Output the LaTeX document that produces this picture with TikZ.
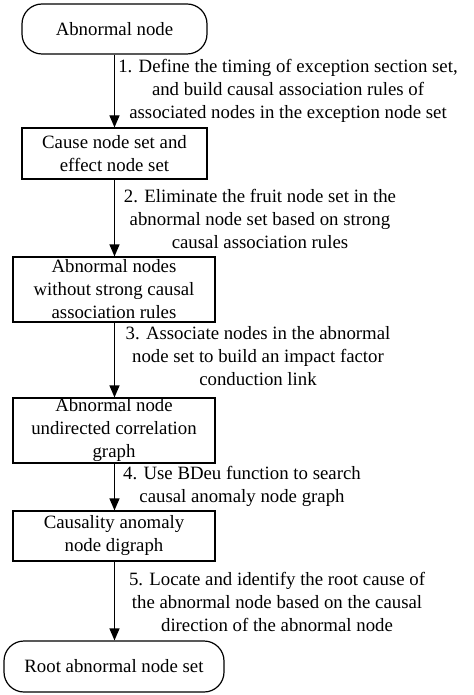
\documentclass[tikz,border=0pt]{standalone}
\usepackage{fontspec}
\setmainfont{Liberation Serif}
\usepackage{tikz}
\usetikzlibrary{positioning}
\usetikzlibrary{shapes}
\usetikzlibrary{arrows.meta}
\tikzstyle{endbox}=[draw,line width=0.6pt,rounded corners=10pt,inner sep=0pt,align=center]
\tikzstyle{stepbox}=[draw,line width=0.6pt,inner sep=0pt,align=center]
\tikzstyle{lab}=[inner sep=0pt,align=center]
\tikzstyle{flow}=[line width=0.6pt,-{Triangle[length=6pt,width=5pt]}]

\begin{document}
\begin{tikzpicture}[x=0.5pt,y=-0.5pt,font=\fontsize{9.4}{11.5}\selectfont]
			\useasboundingbox (0,0) rectangle (474,695);
			
			\node [endbox, minimum width=92.5pt, minimum height=25pt] (start) at (114.5,29) {Abnormal node};
			\node [stepbox, minimum width=92.5pt, minimum height=25.5pt] (cause) at (114.5,153.5) {Cause node set and\\effect node set};
			\node [stepbox, minimum width=101pt, minimum height=32.5pt] (nostrong) at (114,289.5) {Abnormal nodes\\without strong causal\\association rules};
			\node [stepbox, minimum width=101pt, minimum height=32.5pt] (undir) at (114,430.5) {Abnormal node\\undirected correlation\\graph};
			\node [stepbox, minimum width=101pt, minimum height=25pt] (digraph) at (114,536) {Causality anomaly\\node digraph};
			\node [endbox, minimum width=110pt, minimum height=25.5pt] (root) at (114,666.5) {Root abnormal node set};
			
			\draw[flow] (start.south -| 114.5,0) -- (cause.north -| 114.5,0);
			\draw[flow] (cause.south -| 114.5,0) -- (nostrong.north -| 114.5,0);
			\draw[flow] (nostrong.south -| 114.5,0) -- (undir.north -| 114.5,0);
			\draw[flow] (undir.south -| 114.5,0) -- (digraph.north -| 114.5,0);
			\draw[flow] (digraph.south -| 114.5,0) -- (root.north -| 114.5,0);
			
			\node [lab] (lab1) at (288,91) {1. Define the timing of exception section set,\\and build causal association rules of\\associated nodes in the exception node set};
			\node [lab] (lab2) at (260,219) {2. Eliminate the fruit node set in the\\abnormal node set based on strong\\causal association rules};
			\node [lab] (lab3) at (258,356) {3. Associate nodes in the abnormal\\node set to build an impact factor\\conduction link};
			\node [lab] (lab4) at (242,486) {4. Use BDeu function to search\\causal anomaly node graph};
			\node [lab] (lab5) at (277,602) {5. Locate and identify the root cause of\\the abnormal node based on the causal\\direction of the abnormal node};
\end{tikzpicture}
\end{document}
